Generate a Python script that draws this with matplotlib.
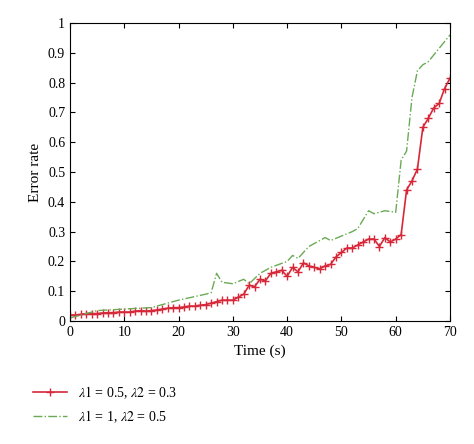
import numpy as np
import matplotlib
matplotlib.use("Agg")
import matplotlib.pyplot as plt

plt.rcParams["font.family"] = ["Liberation Serif", "DejaVu Serif"]
plt.rcParams["mathtext.fontset"] = "stix"

# series 1: lambda1=0.5, lambda2=0.3 (one point per second)
t_red = np.arange(0, 71)
err_red = [0.02, 0.02, 0.022, 0.025, 0.025, 0.025, 0.027, 0.028, 0.028, 0.03, 0.03,
           0.03, 0.033, 0.035, 0.033, 0.035, 0.037, 0.04, 0.043, 0.045, 0.045,
           0.047, 0.05, 0.05, 0.053, 0.055, 0.06, 0.065, 0.07, 0.07, 0.07,
           0.08, 0.09, 0.12, 0.115, 0.14, 0.135, 0.16, 0.165, 0.17, 0.15,
           0.18, 0.165, 0.195, 0.185, 0.18, 0.175, 0.185, 0.19, 0.215, 0.23,
           0.245, 0.245, 0.255, 0.265, 0.275, 0.275, 0.25, 0.28, 0.265, 0.275,
           0.29, 0.44, 0.47, 0.51, 0.65, 0.68, 0.715, 0.73, 0.78, 0.815]

# series 2: lambda1=1, lambda2=0.5
t_green = [0, 5, 10, 15, 20, 25, 26, 27, 28, 30, 32, 33, 35, 37, 40, 41, 42, 44,
           46, 47, 48, 52, 53, 55, 56, 58, 60, 61, 62, 63, 64, 65, 66, 70]
err_green = [0.01, 0.035, 0.04, 0.045, 0.07, 0.09, 0.095, 0.16, 0.13, 0.125, 0.14,
             0.125, 0.16, 0.18, 0.2, 0.22, 0.21, 0.25, 0.27, 0.28, 0.27, 0.3,
             0.31, 0.37, 0.36, 0.37, 0.365, 0.54, 0.57, 0.75, 0.84, 0.86, 0.87, 0.96]

fig = plt.figure(figsize=(4.74, 4.44), dpi=100)
ax = fig.add_axes([70 / 474, 1 - 321 / 444, 380 / 474, 298 / 444])
ax.plot(t_red, err_red, color="#d62839", marker="+", markersize=6, lw=1.2,
        label=r"$\lambda1$ = 0.5, $\lambda2$ = 0.3")
ax.plot(t_green, err_green, color="#6aaa55", ls="-.", lw=1,
        label=r"$\lambda1$ = 1, $\lambda2$ = 0.5")
ax.set_xlim(0, 70)
ax.set_ylim(0, 1)
ax.set_xticks(range(0, 71, 10))
ax.set_yticks(np.arange(0, 1.01, 0.1))
ax.set_yticklabels(["0", "0.1", "0.2", "0.3", "0.4", "0.5", "0.6", "0.7", "0.8", "0.9", "1"])
ax.tick_params(direction="in", top=True, right=True, labelsize=10)
ax.set_xlabel("Time (s)", fontsize=11)
ax.set_ylabel("Error rate", fontsize=11)
fig.legend(loc="upper left", bbox_to_anchor=(20 / 474, 1 - 372 / 444),
           frameon=False, fontsize=10, handlelength=2.5)
fig.savefig("out.png", dpi=100)
